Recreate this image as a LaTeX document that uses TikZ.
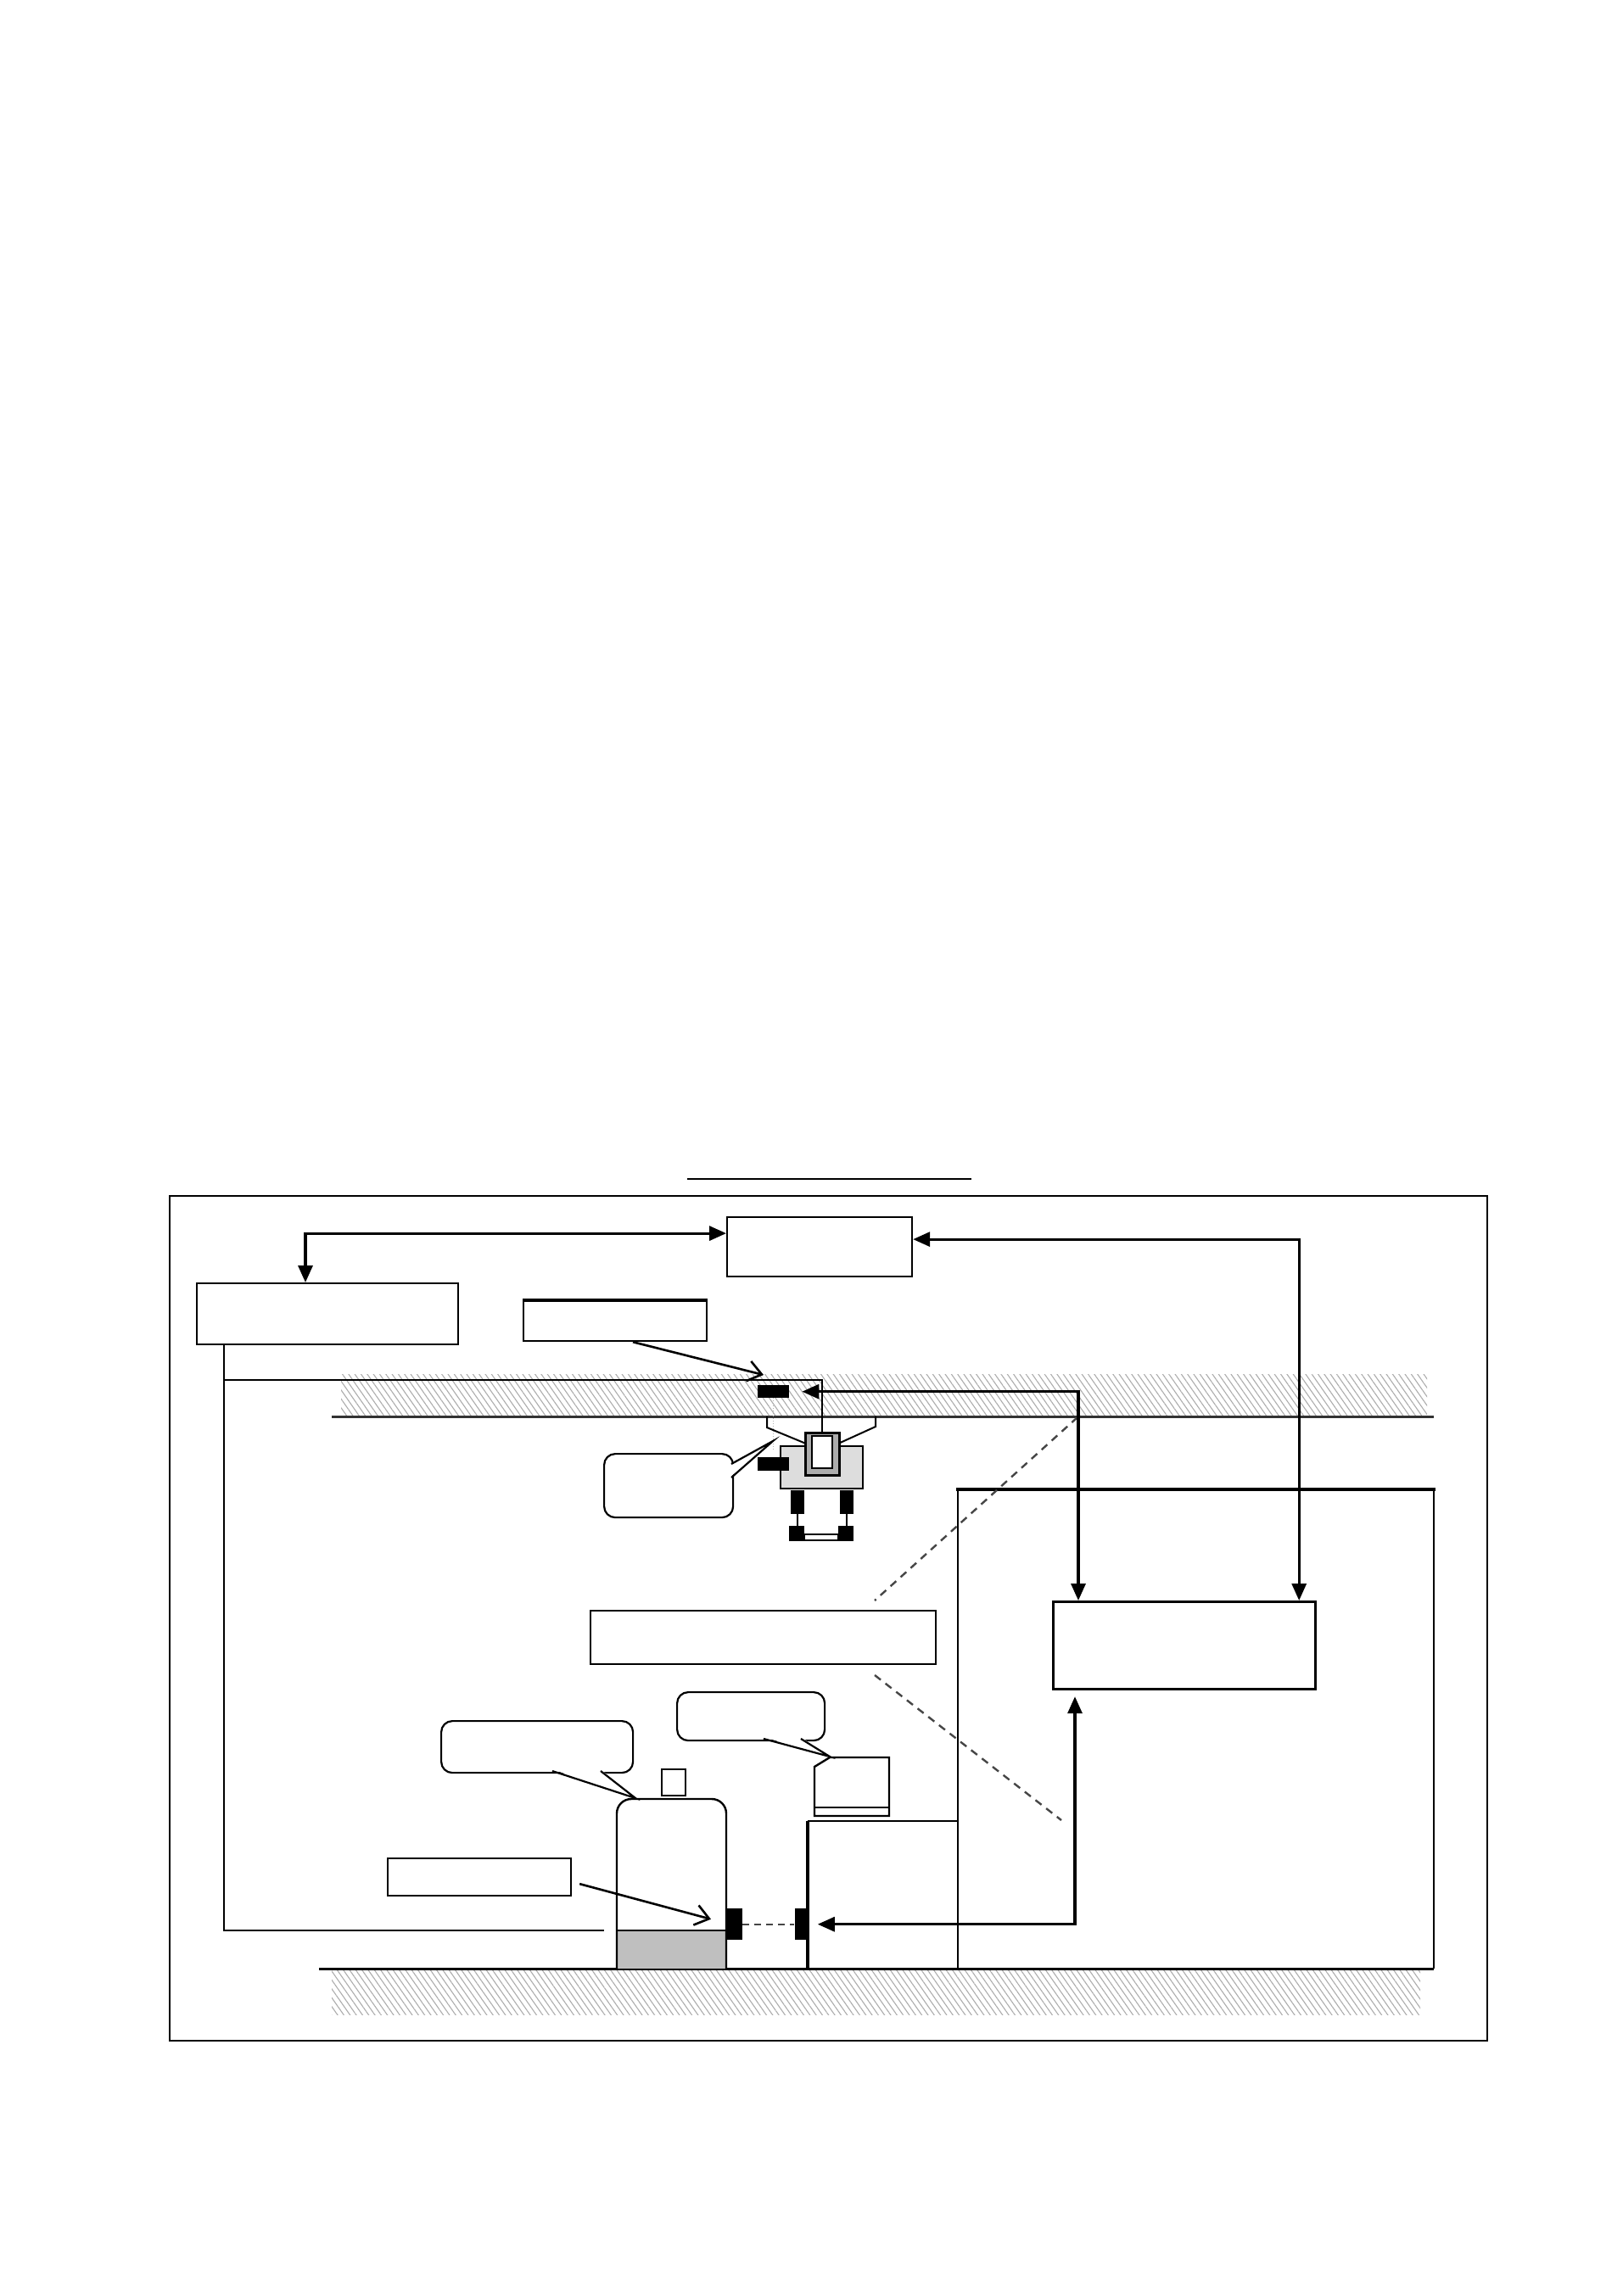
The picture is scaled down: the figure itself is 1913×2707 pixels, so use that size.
\documentclass[tikz,border=0pt]{standalone}
\usepackage{tikz}
\usetikzlibrary{arrows.meta,positioning,patterns.meta}

\begin{document}
\begin{tikzpicture}[
		x=1pt,
		y=-1pt,
		>={Triangle[length=20pt,width=17pt]},
		box/.style={draw, rectangle, line width=2.2pt, inner sep=0pt, anchor=north west},
		blk/.style={fill=black, rectangle, inner sep=0pt, anchor=north west},
		bubble/.style={draw, rectangle, rounded corners=13pt, line width=2.2pt, inner sep=0pt, anchor=north west},
		link/.style={<->, line width=3.2pt},
		ptr/.style={-{Straight Barb[length=16pt,width=24pt]}, line width=2.6pt},
		cable/.style={line width=2.2pt},
		hatch/.style={pattern={Lines[angle=-55,distance=6pt,line width=1.1pt]}, pattern color=gray!65},
		sight/.style={dash pattern=on 9pt off 7pt, line width=2.4pt, gray!55!black}
	]

	\useasboundingbox (0,0) rectangle (1913,2707);

	% title rule and frame
	\draw[line width=2.4pt] (810,1390) -- (1145,1390);
	\draw[line width=2.8pt] (200,1410) rectangle (1753,2406);

	% ceiling and floor
	\fill[hatch] (402,1620) rectangle (1682,1668);
	\draw[line width=3pt, gray!40!black] (391,1670) -- (1690,1670);
	\fill[hatch] (391,2323) rectangle (1674,2375);
	\draw[line width=3pt] (376,2321) -- (1690,2321);

	% building and cabinet
	\draw[line width=1.8pt] (1129,2321) -- (1129,1756);
	\draw[line width=4.5pt] (1127,1756) -- (1692,1756);
	\draw[line width=2.4pt] (1690,1756) -- (1690,2321);
	\draw[line width=1.8pt] (952,2147) -- (1129,2147);
	\draw[line width=3.4pt] (952,2147) -- (952,2321);

	% line of sight
	\draw[sight] (1270,1671) -- (1031,1887);
	\draw[sight] (1031,1975) -- (1251,2146);

	% boxes
	\node[box, minimum width=218pt, minimum height=70pt] (server) at (856,1434) {};
	\node[box, minimum width=308pt, minimum height=72pt] (lbox) at (231,1512) {};
	\node[box, minimum width=216pt, minimum height=47pt] (tag1) at (616,1533) {};
	\draw[line width=4.5pt] (tag1.north west) -- (tag1.north east);
	\node[box, line width=3.2pt, minimum width=309pt, minimum height=103pt] (ctrl) at (1240,1887) {};
	\node[box, minimum width=407pt, minimum height=63pt] (midlbl) at (695,1898) {};
	\node[box, minimum width=216pt, minimum height=44pt] (tag2) at (456,2190) {};

	% markers
	\node[blk, minimum width=37pt, minimum height=15pt] (railtag) at (893,1633) {};
	\node[blk, minimum width=18pt, minimum height=37pt] (plate1) at (857,2250) {};
	\node[blk, minimum width=16pt, minimum height=37pt, right=61pt of plate1.north east, anchor=north west] (plate2) {};
	\draw[gray!55!black, dash pattern=on 8pt off 6pt, line width=2.4pt] (plate1.east) -- (plate2.west);
	\draw[gray!60, dotted, line width=1pt] (railtag.south) -- ++(0,62);

	% cables
	\coordinate (tee) at (264,1627);
	\coordinate (cableend) at (712,2276);
	\draw[cable] ([xshift=33pt]lbox.south west) |- (cableend);

	% crane
	\draw[line width=2pt] (904,1670) -- (904,1683) -- (950,1702);
	\draw[line width=2pt] (1032,1670) -- (1032,1682) -- (988,1702);
	\filldraw[fill=gray!27, line width=2.4pt] (920,1705) rectangle (1017,1755);
	\node[box, fill=gray!65, line width=2.6pt, minimum width=40pt, minimum height=50pt] (hoist) at (948,1688) {};
	\filldraw[fill=white, line width=2.2pt] (957,1693) rectangle (981,1731);
	\draw[cable] (tee) -| (hoist.north);
	\fill (893,1718) rectangle (930,1734);
	\foreach \wx in {930,988} {
		\fill (\wx+2,1757) rectangle ++(16,28);
		\draw[line width=1.4pt] (\wx+10,1785) -- ++(0,15);
		\fill (\wx,1799) rectangle ++(18,18);
	}
	\draw[line width=1.4pt, fill=white] (948,1809) rectangle (988,1816);

	% cylinder and valve
	\fill[gray!50] (727,2276) rectangle (856,2321);
	\draw[line width=2.4pt, rounded corners=17pt] (727,2321) -- (727,2121) -- (856,2121) -- (856,2321);
	\draw[line width=2.4pt] (727,2276) -- (856,2276);
	\draw[line width=2.4pt] (780,2086) rectangle (808,2117);

	% device on cabinet
	\draw[line width=2.4pt] (978,2072) -- (1048,2072) -- (1048,2141) -- (960,2141) -- (960,2083) -- cycle;
	\draw[line width=1.8pt] (960,2131) -- (1048,2131);

	% callouts
	\node[bubble, minimum width=226pt, minimum height=61pt] (cylnote) at (519,2028) {};
	\fill[white] (651,2086) -- (708,2086) -- (749,2120) -- cycle;
	\draw[line width=2.2pt] (651,2088) -- (749,2120) -- (708,2088);
	\node[bubble, minimum width=174pt, minimum height=57pt] (devnote) at (797,1994) {};
	\fill[white] (900,2048) -- (944,2048) -- (978,2071) -- cycle;
	\draw[line width=2.2pt] (900,2050) -- (978,2071) -- (944,2050);
	\node[bubble, minimum width=152pt, minimum height=75pt] (cranenote) at (711,1713) {};
	\fill[white] (860,1726) -- (860,1742) -- (911,1699) -- cycle;
	\draw[line width=2.2pt] (862,1726) -- (911,1699) -- (862,1742);

	% links
	\draw[link] ([xshift=129pt]lbox.north west) |- ([yshift=16pt]server.west);
	\draw[link] ([yshift=9pt]server.east) -| ([xshift=-21pt]ctrl.north east);
	\draw[link] ([xshift=15pt]railtag.east) -| ([xshift=31pt]ctrl.north west);
	\draw[link] ([xshift=11pt]plate2.east) -| ([xshift=27pt,yshift=-7pt]ctrl.south west);

	% pointers
	\draw[ptr] ([xshift=130pt]tag1.south west) -- ([xshift=7pt,yshift=12pt]railtag.north west);
	\draw[ptr] ([xshift=9pt,yshift=-8pt]tag2.east) -- ([xshift=-19pt,yshift=6pt]plate1.west);

\end{tikzpicture}
\end{document}
